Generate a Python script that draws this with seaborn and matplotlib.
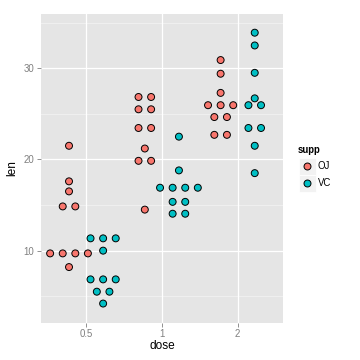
import numpy as np
import pandas as pd
import matplotlib
matplotlib.use("Agg")
import matplotlib.pyplot as plt
import seaborn as sns
from matplotlib.lines import Line2D
from matplotlib.patches import Rectangle

# ---- data (ToothGrowth) ----
doses = [0.5, 1, 2]
supps = ["OJ", "VC"]
oj_05 = [15.2, 21.5, 17.6, 9.7, 14.5, 10.0, 8.2, 9.4, 16.5, 9.7]
oj_1 = [19.7, 23.3, 23.6, 26.4, 20.0, 25.2, 25.8, 21.2, 14.5, 27.3]
oj_2 = [25.5, 26.4, 22.4, 24.5, 24.8, 30.9, 26.4, 27.3, 29.4, 23.0]
vc_05 = [4.2, 11.5, 7.3, 5.8, 6.4, 10.0, 11.2, 11.2, 5.2, 7.0]
vc_1 = [16.5, 16.5, 15.2, 17.3, 22.5, 17.3, 13.6, 14.5, 18.8, 15.5]
vc_2 = [23.6, 18.5, 33.9, 25.5, 26.4, 32.5, 26.7, 21.5, 23.3, 29.5]
x_tick_labels = ["0.5", "1", "2"]
y_ticks = [10, 20, 30]
palette = {"OJ": "#F8766D", "VC": "#00BFC4"}

groups = {("OJ", 0.5): oj_05, ("OJ", 1): oj_1, ("OJ", 2): oj_2,
          ("VC", 0.5): vc_05, ("VC", 1): vc_1, ("VC", 2): vc_2}

all_vals = sum(groups.values(), [])
binwidth = (max(all_vals) - min(all_vals)) / 30.0


def densitybin(vals, bw):
    xs = sorted(vals)
    bins = []
    binend = -np.inf
    for v in xs:
        if v >= binend - 1e-9:
            binend = v + bw
            bins.append([])
        bins[-1].append(v)
    return [((min(b) + max(b)) / 2.0, len(b)) for b in bins]


dodge = 0.9 * np.log10(2) / 4.0
stack = 0.05
rows = []
for (supp, dose), vals in groups.items():
    off = -dodge if supp == "OJ" else dodge
    for center, n in densitybin(vals, binwidth):
        for k in range(n):
            rows.append({"x": np.log10(dose) + off + (k - (n - 1) / 2.0) * stack,
                         "len": center, "supp": supp})
df = pd.DataFrame(rows)

plt.rcParams["font.family"] = ["Liberation Sans", "DejaVu Sans"]
W = H = 360
fig = plt.figure(figsize=(3.6, 3.6), dpi=100)
L, R, T, B = 41, 283, 14, 322.7
ax = fig.add_axes([L / W, 1 - B / H, (R - L) / W, (B - T) / H])
ax.set_facecolor("#E5E5E5")

# grid
for yv in [5, 15, 25, 35]:
    ax.axhline(yv, color="#F2F2F2", lw=0.6, zorder=0)
for yv in y_ticks:
    ax.axhline(yv, color="white", lw=0.9, zorder=0.5)
for xv in doses:
    ax.axvline(np.log10(xv), color="white", lw=0.9, zorder=0.5)

sns.scatterplot(data=df, x="x", y="len", hue="supp", palette=palette,
                hue_order=supps, edgecolor="black", linewidth=0.7, s=25,
                legend=False, ax=ax, zorder=3)

ax.set_xlim(-0.48, 0.481)
ax.set_ylim(2.1, 35.95)
ax.set_xticks([np.log10(d) for d in doses])
ax.set_xticklabels(x_tick_labels)
ax.set_yticks(y_ticks)
ax.set_yticklabels([str(v) for v in y_ticks])
for s in ax.spines.values():
    s.set_visible(False)
ax.tick_params(axis="both", length=3.0, width=0.6, color="#7F7F7F",
               labelcolor="#7F7F7F", labelsize=6.9, pad=1.8)
ax.set_xlabel("")
ax.set_ylabel("")

fig.text((L + R) / 2 / W, 1 - 346 / H, "dose", ha="center", va="center",
         fontsize=8.6, color="black")
fig.text(12 / W, 1 - (T + B) / 2 / H, "len", ha="center", va="center",
         rotation=90, fontsize=8.6, color="black")

# legend
fig.text(298 / W, 1 - 150 / H, "supp", ha="left", va="center",
         fontsize=6.9, fontweight="bold")
for i, supp in enumerate(supps):
    yc = 166 + i * 17
    fig.add_artist(Rectangle((298.5 / W, 1 - (yc + 8.5) / H), 17 / W, 17 / H,
                             transform=fig.transFigure, facecolor="#F2F2F2",
                             edgecolor="white", lw=0.6))
    fig.add_artist(Line2D([307 / W], [1 - yc / H], marker="o", markersize=5.0,
                          markerfacecolor=palette[supp], markeredgecolor="black",
                          markeredgewidth=0.7, transform=fig.transFigure))
    fig.text(318 / W, 1 - yc / H, supp, ha="left", va="center", fontsize=6.9)

fig.savefig("out.png", dpi=100)
